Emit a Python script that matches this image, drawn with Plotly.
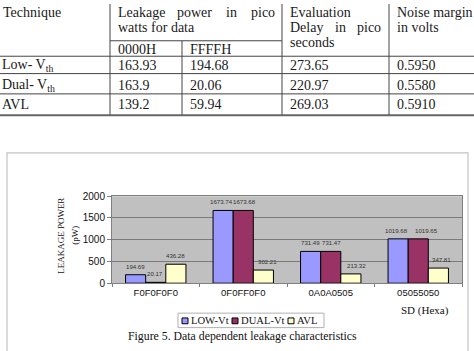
import plotly.graph_objects as go

# ---------------- data ----------------
categories = ["F0F0F0F0", "0F0FF0F0", "0A0A0505", "05055050"]
low_vt = [194.69, 1673.74, 731.49, 1019.68]
dual_vt = [20.17, 1673.68, 731.47, 1019.65]
avl = [436.28, 302.21, 213.32, 347.81]
series_names = ["LOW-Vt", "DUAL-Vt", "AVL"]
series_colors = ["#9999ff", "#993366", "#ffffcc"]

table_rows = ["Low- V<sub>th</sub>", "Dual- V<sub>th</sub>", "AVL"]
leak_0000 = ["163.93", "163.9", "139.2"]
leak_ffff = ["194.68", "20.06", "59.94"]
delay_ps = ["273.65", "220.97", "269.03"]
noise_v = ["0.5950", "0.5580", "0.5910"]

W, H = 474, 351
PLOT_L, PLOT_R, PLOT_T, PLOT_B = 112, 462, 197, 287
BARGAP = 0.31

# small horizontal nudges (px) of data labels, as placed in the original (series x category)
label_nudge = [[0, -2, 0, -1.5],
               [-1, 1, 1, 8],
               [0, 4, 6, 3]]


def px(x):
    return x / W


def py(y):
    return 1 - y / H


SERIF = "Liberation Serif, Times New Roman, serif"
SANS = "Liberation Sans, Arial, sans-serif"

fig = go.Figure()
all_series = [low_vt, dual_vt, avl]
for name, vals, col in zip(series_names, all_series, series_colors):
    fig.add_trace(go.Bar(
        x=categories, y=vals, name=name,
        marker=dict(color=col, line=dict(color="black", width=1)),
        showlegend=False,
    ))

fig.update_layout(
    width=W, height=H, margin=dict(l=0, r=0, t=0, b=0),
    paper_bgcolor="white", plot_bgcolor="#c0c0c0",
    barmode="group", bargap=BARGAP, bargroupgap=0,
    xaxis=dict(type="category", domain=[px(PLOT_L), px(PLOT_R)], showline=True,
               linecolor="#7f7f7f", mirror=True, ticks="outside",
               tickson="boundaries", ticklen=3, tickcolor="#7f7f7f",
               tickfont=dict(family=SANS, size=9.5, color="#111111")),
    yaxis=dict(domain=[py(PLOT_B), py(PLOT_T)], range=[0, 2000], dtick=500,
               showline=True, linecolor="#7f7f7f", mirror=True,
               ticks="outside", ticklen=4, tickcolor="#7f7f7f",
               gridcolor="#7a7a7a", gridwidth=1, zeroline=False,
               tickfont=dict(family=SANS, size=10, color="#111111")),
)

shapes = []
annots = []

# data labels (Excel style: a few pixels above each bar)
bar_px = (PLOT_R - PLOT_L) / len(categories) * (1 - BARGAP) / len(all_series)
for i, vals in enumerate(all_series):
    for j, v in enumerate(vals):
        annots.append(dict(text=f"{v:.2f}", x=j, y=v, xref="x", yref="y",
                           xanchor="center", yanchor="middle", showarrow=False,
                           xshift=(i - 1) * bar_px + label_nudge[i][j], yshift=8.5,
                           font=dict(family=SANS, size=6.1, color="#333333")))


def hline(y, x0, x1, color="#444444", width=1):
    shapes.append(dict(type="line", xref="paper", yref="paper",
                       x0=px(x0), x1=px(x1), y0=py(y), y1=py(y),
                       line=dict(color=color, width=width)))


def vline(x, y0, y1, color="#444444", width=1):
    shapes.append(dict(type="line", xref="paper", yref="paper",
                       x0=px(x), x1=px(x), y0=py(y0), y1=py(y1),
                       line=dict(color=color, width=width)))


def text(t, x, y, size=14, anchor="left", family=SERIF, color="#1a1a1a", angle=0):
    annots.append(dict(text=t, x=px(x), y=py(y), xref="paper", yref="paper",
                       xanchor=anchor, yanchor="middle", showarrow=False,
                       textangle=angle,
                       font=dict(family=family, size=size, color=color)))


# ---------------- table ----------------
hline(36, 110, 282)
hline(52, 0, 474)
hline(70, 0, 474)
hline(91, 0, 474)
hline(113, 0, 474, color="#666666", width=2)
vline(110, -2, 113)
vline(182, 36, 113)
vline(282, -2, 113)
vline(389, -2, 113)

text("Technique", 1, 6.5)
text("Leakage", 116, 6.5)
text("power", 194, 6.5, anchor="center")
text("in", 231, 6.5, anchor="center")
text("pico", 277, 6.5, anchor="right")
text("watts for data", 116, 22)
text("0000H", 116, 45)
text("FFFFH", 188, 45)
text("Evaluation", 288, 6.5)
text("Delay", 288, 22)
text("in", 340, 22, anchor="center")
text("pico", 383, 22, anchor="right")
text("seconds", 288, 37.5)
text("Noise margin", 395, 6.5)
text("in volts", 395, 22)

row_y = [62, 82, 102]
for i, yy in enumerate(row_y):
    text(table_rows[i], 0, yy)
    text(leak_0000[i], 116, yy)
    text(leak_ffff[i], 188, yy)
    text(delay_ps[i], 288, yy)
    text(noise_v[i], 395, yy)

# ---------------- chart frame & labels ----------------
shapes.append(dict(type="rect", xref="paper", yref="paper",
                   x0=px(7), x1=px(468), y0=py(360), y1=py(152),
                   line=dict(color="#c4c4c4", width=1.2)))

text("LEAKAGE POWER", 61, 238, size=9, anchor="center", angle=-90, color="#111111")
text("(pW)", 75, 238, size=9, anchor="center", angle=-90, color="#111111")
text("SD (Hexa)", 425, 315, size=11, anchor="center", color="#111111")

# legend (manual, compact like the original)
shapes.append(dict(type="rect", xref="paper", yref="paper",
                   x0=px(178), x1=px(324), y0=py(333), y1=py(318),
                   line=dict(color="#b0b0b0", width=1), fillcolor="white"))
leg_x = [182, 232, 288]
for name, col, lx in zip(series_names, series_colors, leg_x):
    shapes.append(dict(type="rect", xref="paper", yref="paper",
                       x0=px(lx), x1=px(lx + 6), y0=py(329), y1=py(323),
                       line=dict(color="black", width=1), fillcolor=col))
    text(name, lx + 6.5, 325.5, size=10.6, anchor="left", color="#111111")

text("Figure 5. Data dependent leakage characteristics", 243, 342, size=11.8,
     anchor="center", color="#111111")

fig.update_layout(shapes=shapes, annotations=annots)
fig.write_html("out.html")
